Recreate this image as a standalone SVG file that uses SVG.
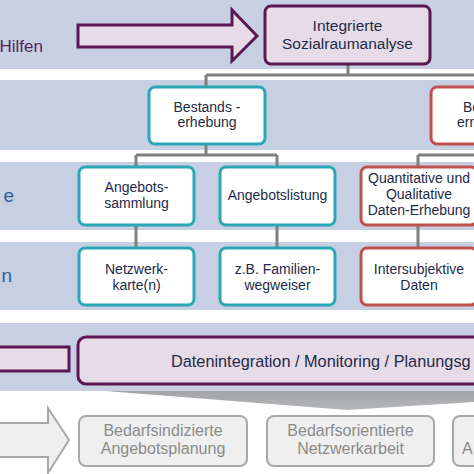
<svg xmlns="http://www.w3.org/2000/svg" width="474" height="474" viewBox="0 0 474 474">
<defs>
<style>
.band{fill:#c6d0e2}
.t{font-family:"Liberation Sans",Arial,sans-serif;fill:#1e2a4a;text-anchor:middle}
.teal{fill:#fff;stroke:#2aa7b6;stroke-width:3}
.red{fill:#fff;stroke:#c0504d;stroke-width:3}
.pur{fill:#e6dbe6;stroke:#5a1752;stroke-width:3}
.gray{fill:#efefef;stroke:#a8a8a8;stroke-width:2}
.gt{font-family:"Liberation Sans",Arial,sans-serif;fill:#8a8a8a;text-anchor:middle;font-size:16px}
.conn{fill:none;stroke:#7f7f7f;stroke-width:3}
</style>
<linearGradient id="shadow" x1="0" y1="0" x2="0" y2="1">
<stop offset="0" stop-color="#a2a4a8"/>
<stop offset="1" stop-color="#b4b6b9"/>
</linearGradient>
</defs>
<rect width="474" height="474" fill="#fff"/>
<g id="bands">
<rect class="band" x="0" y="0" width="474" height="69"/>
<rect class="band" x="0" y="80" width="474" height="70"/>
<rect class="band" x="0" y="162" width="474" height="68"/>
<rect class="band" x="0" y="242" width="474" height="68"/>
<rect class="band" x="0" y="323" width="474" height="68"/>
</g>
<g id="labels">
<text x="43" y="52" font-family="Liberation Sans,Arial,sans-serif" font-size="17" fill="#5c1d5f" text-anchor="end">Hilfen</text>
<text x="14" y="202" font-family="Liberation Sans,Arial,sans-serif" font-size="19" fill="#2f5f96" text-anchor="end">e</text>
<text x="12" y="282" font-family="Liberation Sans,Arial,sans-serif" font-size="19" fill="#2f5f96" text-anchor="end">n</text>
</g>
<g id="shadow-funnel">
<polygon points="105,391 347,410 649,391" fill="url(#shadow)"/>
</g>
<g id="connectors">
<path class="conn" d="M348,64V75M206,75H476M206,75V87"/>
<path class="conn" d="M206,144V155M136,155H277M136,155V167M277,155V167"/>
<path class="conn" d="M136,225V248M277,225V248"/>
<path class="conn" d="M418,155H476M418,155V167M418,225V248"/>
</g>
<g id="arrow-top">
<polygon class="pur" points="78,25 232,25 232,10 257,36 232,61 232,47 78,47"/>
</g>
<g id="node-integrierte">
<rect class="pur" x="265" y="6" width="165" height="58" rx="6"/>
<text class="t" x="347.5" y="31" font-size="15.5">Integrierte</text>
<text class="t" x="347.5" y="49" font-size="15.5">Sozialraumanalyse</text>
</g>
<g id="node-bestand">
<rect class="teal" x="149" y="87" width="116" height="57" rx="6"/>
<text class="t" x="207" y="112" font-size="14">Bestands -</text>
<text class="t" x="207" y="127" font-size="14">erhebung</text>
</g>
<g id="node-bedarf">
<rect class="red" x="431" y="87" width="70" height="57" rx="6"/>
<text class="t" x="463" y="112" font-size="14" style="text-anchor:start">Be</text>
<text class="t" x="457" y="127" font-size="14" style="text-anchor:start">erm</text>
</g>
<g id="node-angebotssammlung">
<rect class="teal" x="79" y="167" width="115" height="58" rx="6"/>
<text class="t" x="136.5" y="192" font-size="14">Angebots-</text>
<text class="t" x="136.5" y="208" font-size="14">sammlung</text>
</g>
<g id="node-angebotslistung">
<rect class="teal" x="220" y="167" width="115" height="58" rx="6"/>
<text class="t" x="277.5" y="200" font-size="14">Angebotslistung</text>
</g>
<g id="node-quant">
<rect class="red" x="361" y="167" width="116" height="58" rx="6"/>
<text class="t" x="419" y="183" font-size="14">Quantitative und</text>
<text class="t" x="419" y="199" font-size="14">Qualitative</text>
<text class="t" x="419" y="215" font-size="14">Daten-Erhebung</text>
</g>
<g id="node-netzwerkkarte">
<rect class="teal" x="79" y="248" width="115" height="57" rx="6"/>
<text class="t" x="136.5" y="274" font-size="14">Netzwerk-</text>
<text class="t" x="136.5" y="290" font-size="14">karte(n)</text>
</g>
<g id="node-wegweiser">
<rect class="teal" x="220" y="248" width="115" height="57" rx="6"/>
<text class="t" x="277.5" y="274" font-size="14">z.B. Familien-</text>
<text class="t" x="277.5" y="290" font-size="14">wegweiser</text>
</g>
<g id="node-intersubjektiv">
<rect class="red" x="361" y="248" width="116" height="57" rx="6"/>
<text class="t" x="419" y="274" font-size="14">Intersubjektive</text>
<text class="t" x="419" y="290" font-size="14">Daten</text>
</g>
<g id="node-left-bar">
<rect class="pur" x="-10" y="347" width="79" height="24"/>
</g>
<g id="node-datenintegration">
<rect class="pur" x="78" y="337" width="420" height="47" rx="8"/>
<text class="t" x="171" y="367" font-size="16.3" style="text-anchor:start">Datenintegration / Monitoring / Planungsg</text>
</g>
<g id="arrow-bottom">
<polygon class="gray" points="-5,423 48,423 48,408 69,440 48,473 48,457 -5,457"/>
</g>
<g id="node-angebotsplanung">
<rect class="gray" x="79" y="416" width="168" height="50" rx="7"/>
<text class="gt" x="163" y="436">Bedarfsindizierte</text>
<text class="gt" x="163" y="454">Angebotsplanung</text>
</g>
<g id="node-netzwerkarbeit">
<rect class="gray" x="267" y="416" width="167" height="50" rx="7"/>
<text class="gt" x="350.5" y="436">Bedarfsorientierte</text>
<text class="gt" x="350.5" y="454">Netzwerkarbeit</text>
</g>
<g id="node-third">
<rect class="gray" x="453" y="416" width="60" height="50" rx="7"/>
<text class="gt" x="462" y="454" style="text-anchor:start">A</text>
</g>
</svg>
